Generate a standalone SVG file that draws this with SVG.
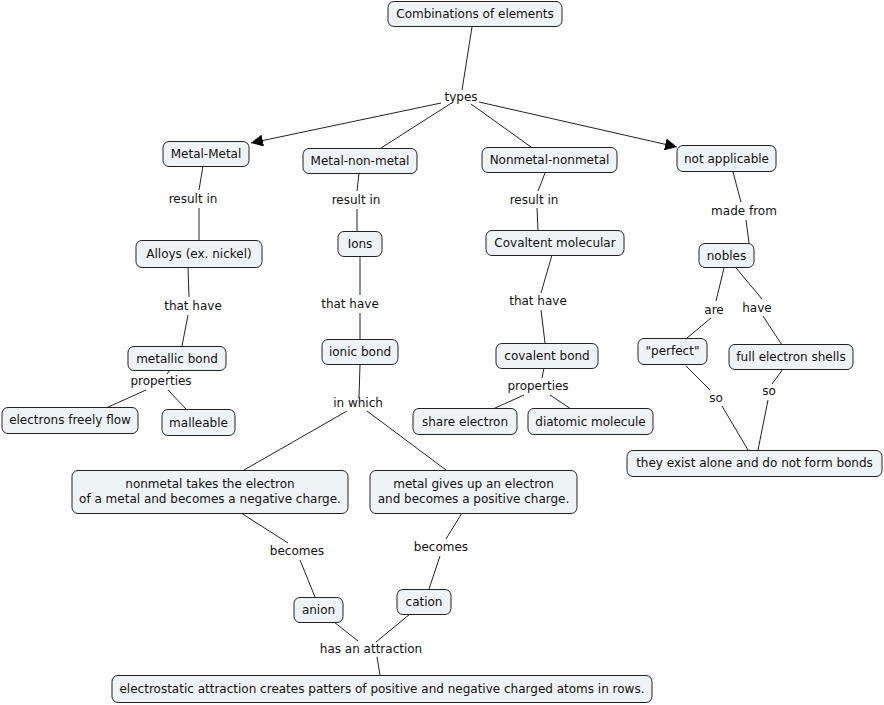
<svg xmlns="http://www.w3.org/2000/svg" width="884" height="705" viewBox="0 0 884 705">
<defs>
<style>
.n rect{fill:#eef3f5;stroke:#222;stroke-width:1;}
text{font-family:"DejaVu Sans",Verdana,sans-serif;font-size:12px;fill:#111;text-anchor:middle;dominant-baseline:central;}
.c line{stroke:#222;stroke-width:1;fill:none;}
</style>
<marker id="ah" viewBox="0 0 10 10" refX="10" refY="5" markerWidth="12" markerHeight="12" markerUnits="userSpaceOnUse" orient="auto"><path d="M0,0 L10,5 L0,10 z" fill="#000"/></marker>
</defs>
<rect width="884" height="705" fill="#fff"/>
<g id="connectors" class="c">
<line x1="472" y1="27" x2="462" y2="90"/>
<line x1="441" y1="103" x2="251" y2="143" marker-end="url(#ah)"/>
<line x1="450" y1="104" x2="381" y2="148"/>
<line x1="471" y1="104" x2="531" y2="147"/>
<line x1="479" y1="102" x2="677" y2="147" marker-end="url(#ah)"/>
<line x1="203" y1="166" x2="199" y2="190"/>
<line x1="199" y1="208" x2="199" y2="240"/>
<line x1="359" y1="173" x2="357" y2="191"/>
<line x1="357" y1="209" x2="357" y2="231"/>
<line x1="545" y1="173" x2="538" y2="191"/>
<line x1="537" y1="208" x2="538" y2="231"/>
<line x1="733" y1="172" x2="741" y2="202"/>
<line x1="746" y1="220" x2="749" y2="243"/>
<line x1="188" y1="268" x2="189" y2="297"/>
<line x1="188" y1="315" x2="182" y2="346"/>
<line x1="360" y1="256" x2="360" y2="295"/>
<line x1="360" y1="313" x2="360" y2="339"/>
<line x1="552" y1="255" x2="541" y2="293"/>
<line x1="541" y1="310" x2="545" y2="343"/>
<line x1="724" y1="268" x2="716" y2="301"/>
<line x1="711" y1="318" x2="687" y2="338"/>
<line x1="736" y1="268" x2="762" y2="299"/>
<line x1="763" y1="316" x2="782" y2="345"/>
<line x1="170" y1="370" x2="167" y2="374"/>
<line x1="146" y1="390" x2="106" y2="408"/>
<line x1="168" y1="390" x2="187" y2="410"/>
<line x1="360" y1="364" x2="359" y2="398"/>
<line x1="347" y1="411" x2="244" y2="470"/>
<line x1="367" y1="411" x2="446" y2="470"/>
<line x1="544" y1="368" x2="542" y2="378"/>
<line x1="524" y1="395" x2="493" y2="409"/>
<line x1="550" y1="395" x2="571" y2="409"/>
<line x1="686" y1="366" x2="710" y2="390"/>
<line x1="722" y1="406" x2="748" y2="450"/>
<line x1="783" y1="369" x2="772" y2="384"/>
<line x1="768" y1="400" x2="758" y2="450"/>
<line x1="241" y1="513" x2="288" y2="543"/>
<line x1="300" y1="560" x2="315" y2="597"/>
<line x1="462" y1="513" x2="446" y2="539"/>
<line x1="440" y1="556" x2="429" y2="589"/>
<line x1="334" y1="622" x2="358" y2="641"/>
<line x1="410" y1="614" x2="376" y2="642"/>
<line x1="377" y1="657" x2="380" y2="675"/>
</g>
<g id="labels">
<text x="461" y="97">types</text>
<text x="193" y="199">result in</text>
<text x="356" y="200">result in</text>
<text x="534" y="200">result in</text>
<text x="744" y="211">made from</text>
<text x="193" y="306">that have</text>
<text x="350" y="304">that have</text>
<text x="538" y="301">that have</text>
<text x="161" y="381">properties</text>
<text x="538" y="386">properties</text>
<text x="358" y="403">in which</text>
<text x="714" y="310">are</text>
<text x="757" y="308">have</text>
<text x="716" y="398">so</text>
<text x="769" y="391">so</text>
<text x="297" y="551">becomes</text>
<text x="441" y="547">becomes</text>
<text x="371" y="649">has an attraction</text>
</g>
<g id="n-combinations" class="n"><rect x="388" y="1.5" width="174" height="25" rx="6"/><text x="475" y="14">Combinations of elements</text></g>
<g id="n-metalmetal" class="n"><rect x="163" y="141.5" width="86" height="25" rx="6"/><text x="206" y="154">Metal-Metal</text></g>
<g id="n-metalnonmetal" class="n"><rect x="303" y="148.5" width="114" height="25" rx="6"/><text x="360" y="161">Metal-non-metal</text></g>
<g id="n-nonmetalnonmetal" class="n"><rect x="482" y="147.5" width="135" height="25" rx="6"/><text x="549.5" y="160">Nonmetal-nonmetal</text></g>
<g id="n-notapplicable" class="n"><rect x="677" y="145.5" width="99" height="26" rx="6"/><text x="726.5" y="158.5">not applicable</text></g>
<g id="n-alloys" class="n"><rect x="136" y="240.5" width="126" height="27" rx="6"/><text x="199" y="254">Alloys (ex. nickel)</text></g>
<g id="n-ions" class="n"><rect x="338" y="231.5" width="44" height="25" rx="6"/><text x="360" y="244">Ions</text></g>
<g id="n-covaltent" class="n"><rect x="486" y="230.5" width="138" height="25" rx="6"/><text x="555" y="243">Covaltent molecular</text></g>
<g id="n-nobles" class="n"><rect x="699" y="243.5" width="55" height="24" rx="6"/><text x="726.5" y="255.5">nobles</text></g>
<g id="n-metallicbond" class="n"><rect x="128" y="346.5" width="98" height="24" rx="6"/><text x="177" y="358.5">metallic bond</text></g>
<g id="n-ionicbond" class="n"><rect x="322" y="339.5" width="76" height="25" rx="6"/><text x="360" y="352">ionic bond</text></g>
<g id="n-covalentbond" class="n"><rect x="496" y="343.5" width="102" height="25" rx="6"/><text x="547" y="356">covalent bond</text></g>
<g id="n-perfect" class="n"><rect x="638" y="338.5" width="69" height="26" rx="6"/><text x="672.5" y="351">"perfect"</text></g>
<g id="n-fullshells" class="n"><rect x="729" y="344.5" width="124" height="25" rx="6"/><text x="791" y="357">full electron shells</text></g>
<g id="n-freelyflow" class="n"><rect x="2" y="407.5" width="136" height="26" rx="6"/><text x="70" y="420">electrons freely flow</text></g>
<g id="n-malleable" class="n"><rect x="162" y="409.5" width="73" height="26" rx="6"/><text x="198.5" y="422.5">malleable</text></g>
<g id="n-share" class="n"><rect x="413" y="408.5" width="104" height="26" rx="6"/><text x="465" y="421.5">share electron</text></g>
<g id="n-diatomic" class="n"><rect x="528" y="408.5" width="125" height="26" rx="6"/><text x="590.5" y="421.5">diatomic molecule</text></g>
<g id="n-existalone" class="n"><rect x="627" y="450.5" width="255" height="26" rx="6"/><text x="754.5" y="463">they exist alone and do not form bonds</text></g>
<g id="n-nonmetaltakes" class="n"><rect x="72" y="470.5" width="276" height="43" rx="6"/><text x="210" y="484">nonmetal takes the electron</text><text x="210" y="499">of a metal and becomes a negative charge.</text></g>
<g id="n-metalgives" class="n"><rect x="370" y="470.5" width="207" height="43" rx="6"/><text x="473.5" y="484">metal gives up an electron</text><text x="473.5" y="499">and becomes a positive charge.</text></g>
<g id="n-anion" class="n"><rect x="294" y="597.5" width="49" height="25" rx="6"/><text x="318.5" y="610">anion</text></g>
<g id="n-cation" class="n"><rect x="397" y="589.5" width="54" height="25" rx="6"/><text x="424" y="602">cation</text></g>
<g id="n-electrostatic" class="n"><rect x="112" y="675.5" width="540" height="27" rx="6"/><text x="382" y="689">electrostatic attraction creates patters of positive and negative charged atoms in rows.</text></g>
</svg>
